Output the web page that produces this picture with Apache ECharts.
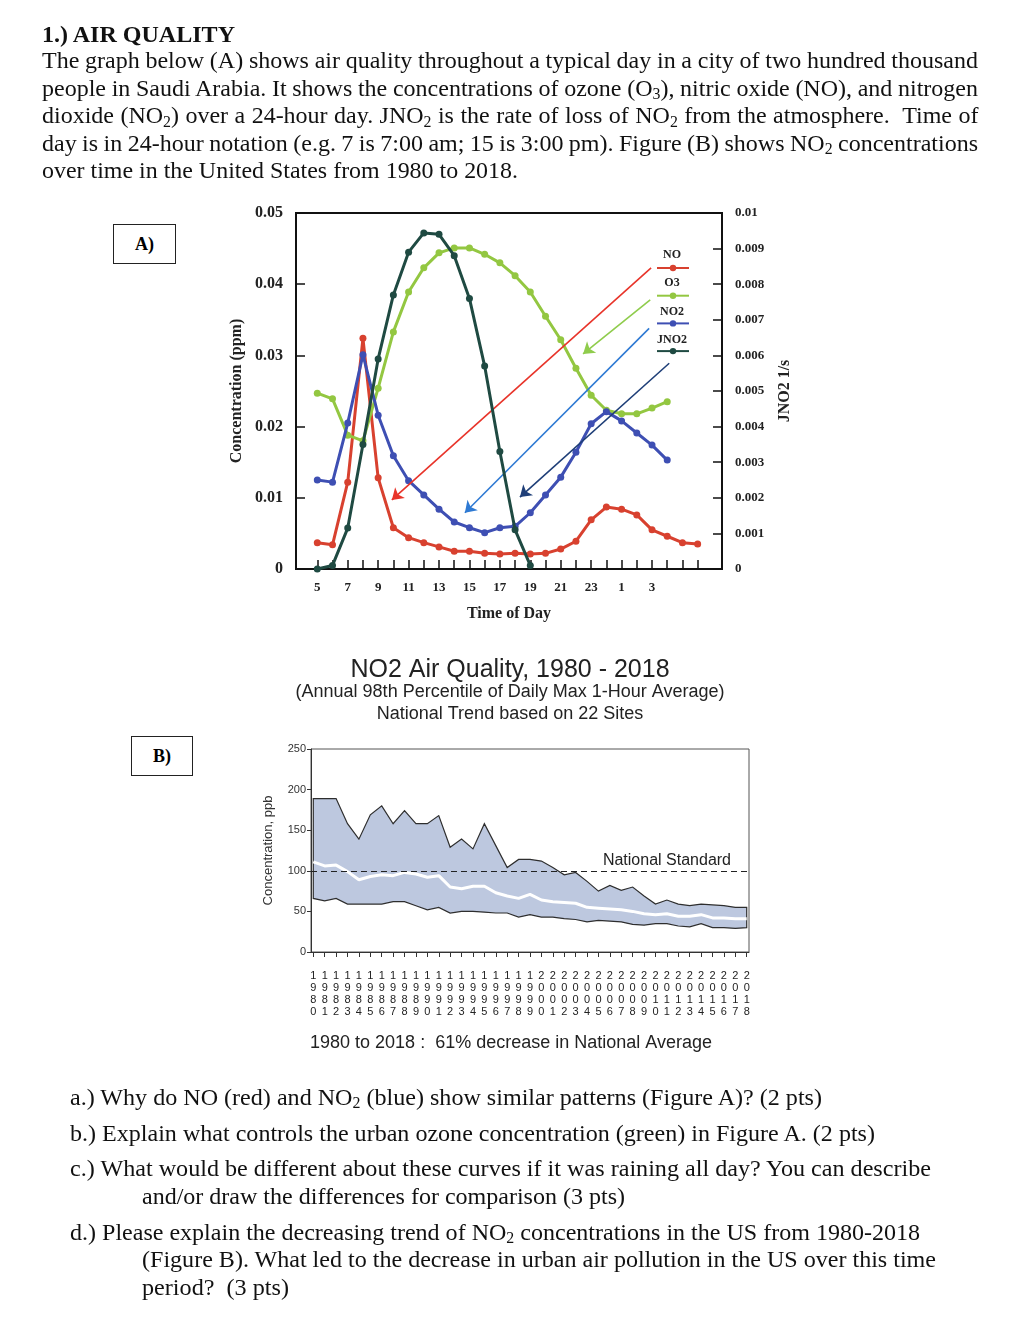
<!DOCTYPE html>
<html><head><meta charset="utf-8">
<script src="https://cdn.jsdelivr.net/npm/echarts@6/dist/echarts.min.js"></script>
<style>
html,body{margin:0;padding:0;background:#fff;}
#page{position:relative;width:1024px;height:1340px;overflow:hidden;background:#fff;}
#chart{position:absolute;left:0;top:0;width:1024px;height:1340px;}
.ln{position:absolute;white-space:nowrap;font-family:"Liberation Serif","Times New Roman",serif;color:#111;line-height:1;transform-origin:0 0;z-index:2;}
.p{font-size:24px;}
.q{font-size:24px;}
.h{font-size:24px;font-weight:bold;}
.s{font-size:0.66em;position:relative;top:0.2em;}
.box{position:absolute;border:1.5px solid #222;font-family:"Liberation Serif",serif;font-weight:bold;font-size:18px;display:flex;align-items:center;justify-content:center;box-sizing:border-box;z-index:2;background:#fff;}
</style>
</head><body>
<div id="page">
<div id="chart"></div>

<div class="ln h" data-x="42" data-b="42" data-r="235" data-fit="sx">1.) AIR QUALITY</div>
<div class="ln p" data-x="42" data-b="68.5" data-r="978" data-fit="ws">The graph below (A) shows air quality throughout a typical day in a city of two hundred thousand</div>
<div class="ln p" data-x="42" data-b="96" data-r="978" data-fit="ws">people in Saudi Arabia. It shows the concentrations of ozone (O<span class="s">3</span>), nitric oxide (NO), and nitrogen</div>
<div class="ln p" data-x="42" data-b="123.5" data-r="978" data-fit="ws">dioxide (NO<span class="s">2</span>) over a 24-hour day. JNO<span class="s">2</span> is the rate of loss of NO<span class="s">2</span> from the atmosphere.&nbsp; Time of</div>
<div class="ln p" data-x="42" data-b="151" data-r="978" data-fit="ws">day is in 24-hour notation (e.g. 7 is 7:00 am; 15 is 3:00 pm). Figure (B) shows NO<span class="s">2</span> concentrations</div>
<div class="ln p" data-x="42" data-b="178.5" data-r="518" data-fit="sx">over time in the United States from 1980 to 2018.</div>

<div class="box" style="left:113px;top:224px;width:63px;height:40px;">A)</div>
<div class="box" style="left:131px;top:736px;width:62px;height:40px;">B)</div>

<div class="ln q" data-x="70" data-b="1105" data-r="822" data-fit="sx">a.) Why do NO (red) and NO<span class="s">2</span> (blue) show similar patterns (Figure A)? (2 pts)</div>
<div class="ln q" data-x="70" data-b="1141" data-r="875" data-fit="sx">b.) Explain what controls the urban ozone concentration (green) in Figure A. (2 pts)</div>
<div class="ln q" data-x="70" data-b="1176" data-r="931" data-fit="sx">c.) What would be different about these curves if it was raining all day? You can describe</div>
<div class="ln q" data-x="142" data-b="1204" data-r="625" data-fit="sx">and/or draw the differences for comparison (3 pts)</div>
<div class="ln q" data-x="70" data-b="1240" data-r="920" data-fit="sx">d.) Please explain the decreasing trend of NO<span class="s">2</span> concentrations in the US from 1980-2018</div>
<div class="ln q" data-x="142" data-b="1267" data-r="936" data-fit="sx">(Figure B). What led to the decrease in urban air pollution in the US over this time</div>
<div class="ln q" data-x="142" data-b="1295" data-r="289" data-fit="sx">period?&nbsp; (3 pts)</div>
</div>

<script>
// ---------- Figure A data (hour of day; 25 = 1 am next day, etc.) ----------
const hoursA = [5,6,7,8,9,10,11,12,13,14,15,16,17,18,19,20,21,22,23,24,25,26,27,28,29,30];
const noVals = [0.0037,0.0034,0.0122,0.0324,0.0128,0.0058,0.0044,0.0037,0.0031,0.0025,0.0025,0.0022,0.0021,0.0022,0.0021,0.0022,0.0028,0.0039,0.0069,0.0087,0.0084,0.0076,0.0055,0.0046,0.0037,0.0035];
const o3Vals = [0.0247,0.0239,0.0188,0.0180,0.0254,0.0333,0.0389,0.0423,0.0444,0.0451,0.0451,0.0442,0.0430,0.0412,0.0389,0.0355,0.0322,0.0282,0.0244,0.0223,0.0218,0.0218,0.0226,0.0235];
const no2Vals = [0.0125,0.0122,0.0205,0.0301,0.0216,0.0159,0.0124,0.0104,0.0084,0.0066,0.0058,0.0051,0.0058,0.0060,0.0079,0.0104,0.0129,0.0164,0.0204,0.0221,0.0208,0.0191,0.0174,0.0153];
const jno2Vals = [0,0.0001,0.00115,0.0035,0.0059,0.0077,0.0089,0.00944,0.0094,0.0088,0.0076,0.0057,0.0033,0.0011,0.0001];
const xTickHours = [5,6,7,8,9,10,11,12,13,14,15,16,17,18,19,20,21,22,23,24,25,26,27,28,29,30];
const xLabelHours = [5,7,9,11,13,15,17,19,21,23,25,27];
const legendNames = ['NO','O3','NO2','JNO2'];
// annotation arrows (data coordinates: [hour, ppm])
const arrowFrom = [[26.94,0.0423],[26.88,0.0378],[26.81,0.0338],[28.13,0.0289]];
const arrowTo   = [[9.90,0.0097],[22.47,0.0302],[14.70,0.0079],[18.32,0.0101]];

// ---------- Figure B data ----------
const years = [1980,1981,1982,1983,1984,1985,1986,1987,1988,1989,1990,1991,1992,1993,1994,1995,1996,1997,1998,1999,2000,2001,2002,2003,2004,2005,2006,2007,2008,2009,2010,2011,2012,2013,2014,2015,2016,2017,2018];
const upperVals = [189,189,189,158,139,169,180,158,174,158,158,168,129,139,127,158,131,104,114,114,112,104,95,98,87,75,82,76,80,69,59,64,59,57,59,58,57,55,55];
const lowerVals = [66,63,66,59,59,59,59,62,62,57,52,55,48,50,50,49,48,48,43,46,43,43,41,40,37,39,38,37,34,33,35,35,32,31,35,30,30,29,30];
const meanVals  = [111,106,107,99,89,93,95,94,98,96,92,94,80,78,81,81,73,69,66,71,64,62,61,60,55,54,53,52,50,47,46,47,44,44,46,42,42,41,41];
const standardValue = 100;

// ---------- text fitting ----------
document.querySelectorAll('.ln').forEach(el => {
  const fs = parseFloat(getComputedStyle(el).fontSize);
  const x = +el.dataset.x, b = +el.dataset.b, r = +el.dataset.r;
  el.style.left = x + 'px';
  el.style.top = (b - 0.8375 * fs) + 'px';
  const w = el.getBoundingClientRect().width;
  const target = r - x;
  if (el.dataset.fit === 'ws') {
    const n = (el.textContent.match(/ /g) || []).length;
    if (n) el.style.wordSpacing = ((target - w) / n) + 'px';
  } else {
    el.style.transform = 'scaleX(' + (target / w) + ')';
  }
});

// ---------- chart ----------
const C = {no:'#d8412f', o3:'#93c741', no2:'#3e4fb3', jno2:'#1f4a42'};
const serif = '"Liberation Serif","Times New Roman",serif';
const sans = '"Liberation Sans",Arial,sans-serif';
const pairA = vals => vals.map((v,i) => [hoursA[i], v]);
const arrowColors = ['#e8342a','#8fcc4c','#2f7ad3','#1f3f78'];

const lineSeries = (name, vals, yIdx, color, z) => ({
  name, type:'line', xAxisIndex:0, yAxisIndex:yIdx, data:pairA(vals),
  symbol:'circle', symbolSize:7, showSymbol:true,
  lineStyle:{width:3, color}, itemStyle:{color}, z, animation:false
});

const chart = echarts.init(document.getElementById('chart'), null, {renderer:'canvas'});
const option = {
  animation:false,
  grid:[
    {left:296, top:213, width:426, height:356, show:true, borderColor:'#111', borderWidth:2, containLabel:false},
    {left:311, top:749, width:438, height:203, show:true, borderColor:'#555', borderWidth:1, containLabel:false}
  ],
  xAxis:[
    {type:'value', gridIndex:0, min:3.6, max:31.6,
     axisLine:{show:true, onZero:false, lineStyle:{color:'#111', width:2}},
     axisTick:{show:true, inside:true, length:9, customValues:xTickHours, lineStyle:{color:'#111', width:1.5}},
     axisLabel:{customValues:xLabelHours, formatter:v => String(v % 24), fontFamily:serif, fontWeight:'bold', fontSize:13, color:'#222', margin:12},
     splitLine:{show:false},
     name:'Time of Day', nameLocation:'middle', nameGap:37,
     nameTextStyle:{fontFamily:serif, fontWeight:'bold', fontSize:16, color:'#222'}},
    {type:'value', gridIndex:1, min:1979.8, max:2018.2,
     axisLine:{show:true, onZero:false, lineStyle:{color:'#333', width:1}},
     axisTick:{show:true, length:5, customValues:years, lineStyle:{color:'#333'}},
     axisLabel:{customValues:years, formatter:v => String(v).split('').join('\n'), fontFamily:sans, fontSize:11, lineHeight:12, color:'#222', margin:18},
     splitLine:{show:false}}
  ],
  yAxis:[
    {type:'value', gridIndex:0, min:0, max:0.05, interval:0.01, position:'left',
     axisLine:{show:true, lineStyle:{color:'#111', width:2}},
     axisTick:{show:true, inside:true, length:9, lineStyle:{color:'#111', width:1.5}},
     axisLabel:{formatter:v => v === 0 ? '0' : String(+v.toFixed(3)), fontFamily:serif, fontWeight:'bold', fontSize:16, color:'#222', margin:13},
     splitLine:{show:false},
     name:'Concentration (ppm)', nameLocation:'middle', nameGap:51, nameRotate:90,
     nameTextStyle:{fontFamily:serif, fontWeight:'bold', fontSize:16, color:'#222'}},
    {type:'value', gridIndex:0, min:0, max:0.01, interval:0.001, position:'right',
     axisLine:{show:true, lineStyle:{color:'#111', width:2}},
     axisTick:{show:true, inside:true, length:9, lineStyle:{color:'#111', width:1.5}},
     axisLabel:{formatter:v => v === 0 ? '0' : String(+v.toFixed(4)), fontFamily:serif, fontWeight:'bold', fontSize:13, color:'#222', margin:13},
     splitLine:{show:false},
     name:'JNO2 1/s', nameLocation:'middle', nameGap:55, nameRotate:90,
     nameTextStyle:{fontFamily:serif, fontWeight:'bold', fontSize:16, color:'#222'}},
    {type:'value', gridIndex:1, min:0, max:250, interval:50,
     axisLine:{show:true, lineStyle:{color:'#333', width:1}},
     axisTick:{show:true, length:4, lineStyle:{color:'#333'}},
     axisLabel:{fontFamily:sans, fontSize:11, color:'#333', margin:5},
     splitLine:{show:false},
     name:'Concentration, ppb', nameLocation:'middle', nameGap:36, nameRotate:90,
     nameTextStyle:{fontFamily:sans, fontSize:13, color:'#333'}}
  ],
  legend:{
    data:legendNames, orient:'vertical', left:656, top:264,
    itemWidth:32, itemHeight:8, itemGap:20.5, formatter:() => '',
    textStyle:{fontSize:1}, selectedMode:false, padding:0
  },
  graphic:[
    ...legendNames.map((n,i) => ({type:'text', x:672, y:255 + i*28.3, z:10,
      style:{text:n, textAlign:'center', textVerticalAlign:'middle', align:'center', verticalAlign:'middle',
             font:'bold 12px ' + serif, fill:'#222'}})),
    {type:'text', x:510, y:670, style:{text:'NO2 Air Quality, 1980 - 2018', textAlign:'center', textVerticalAlign:'middle', align:'center', verticalAlign:'middle', font:'25px ' + sans, fill:'#222'}},
    {type:'text', x:510, y:692.5, style:{text:'(Annual 98th Percentile of Daily Max 1-Hour Average)', textAlign:'center', textVerticalAlign:'middle', align:'center', verticalAlign:'middle', font:'18px ' + sans, fill:'#222'}},
    {type:'text', x:510, y:714, style:{text:'National Trend based on 22 Sites', textAlign:'center', textVerticalAlign:'middle', align:'center', verticalAlign:'middle', font:'18px ' + sans, fill:'#222'}},
    {type:'text', x:511, y:1043, style:{text:'1980 to 2018 :  61% decrease in National Average', textAlign:'center', textVerticalAlign:'middle', align:'center', verticalAlign:'middle', font:'18px ' + sans, fill:'#222'}}
  ],
  series:[
    Object.assign(lineSeries('NO', noVals, 0, C.no, 3), {
      markLine:{silent:true, animation:false, symbol:['none','arrow'], symbolSize:11,
        label:{show:false},
        data: arrowFrom.map((f,i) => [
          {coord:f, lineStyle:{color:arrowColors[i], width:1.6, type:'solid'}, itemStyle:{color:arrowColors[i]}},
          {coord:arrowTo[i], lineStyle:{color:arrowColors[i], width:1.6, type:'solid'}, itemStyle:{color:arrowColors[i]}}
        ])}
    }),
    lineSeries('O3', o3Vals, 0, C.o3, 3),
    lineSeries('NO2', no2Vals, 0, C.no2, 4),
    lineSeries('JNO2', jno2Vals, 1, C.jno2, 5),
    {type:'custom', xAxisIndex:1, yAxisIndex:2, data:[[1999,100]], silent:true, z:1, clip:false,
     renderItem:(params, api) => {
       const top = years.map((y,i) => api.coord([y, upperVals[i]]));
       const bot = years.map((y,i) => api.coord([y, lowerVals[i]])).reverse();
       return {type:'polygon', shape:{points:top.concat(bot)},
               style:{fill:'#bdc8df', stroke:'#2e2e2e', lineWidth:1.2}};
     }},
    {name:'Mean', type:'line', xAxisIndex:1, yAxisIndex:2, z:3,
     data:years.map((y,i) => [y, meanVals[i]]), symbol:'none',
     lineStyle:{color:'#ffffff', width:3},
     markLine:{silent:true, symbol:'none', animation:false,
       lineStyle:{color:'#222', width:1.2, type:[6,4]},
       data:[{yAxis:standardValue}],
       label:{show:true, position:'insideEndTop', formatter:'National Standard', fontFamily:sans, fontSize:16, color:'#222', distance:[18,2]}}}
  ]
};
chart.setOption(option);
</script>
</body></html>
